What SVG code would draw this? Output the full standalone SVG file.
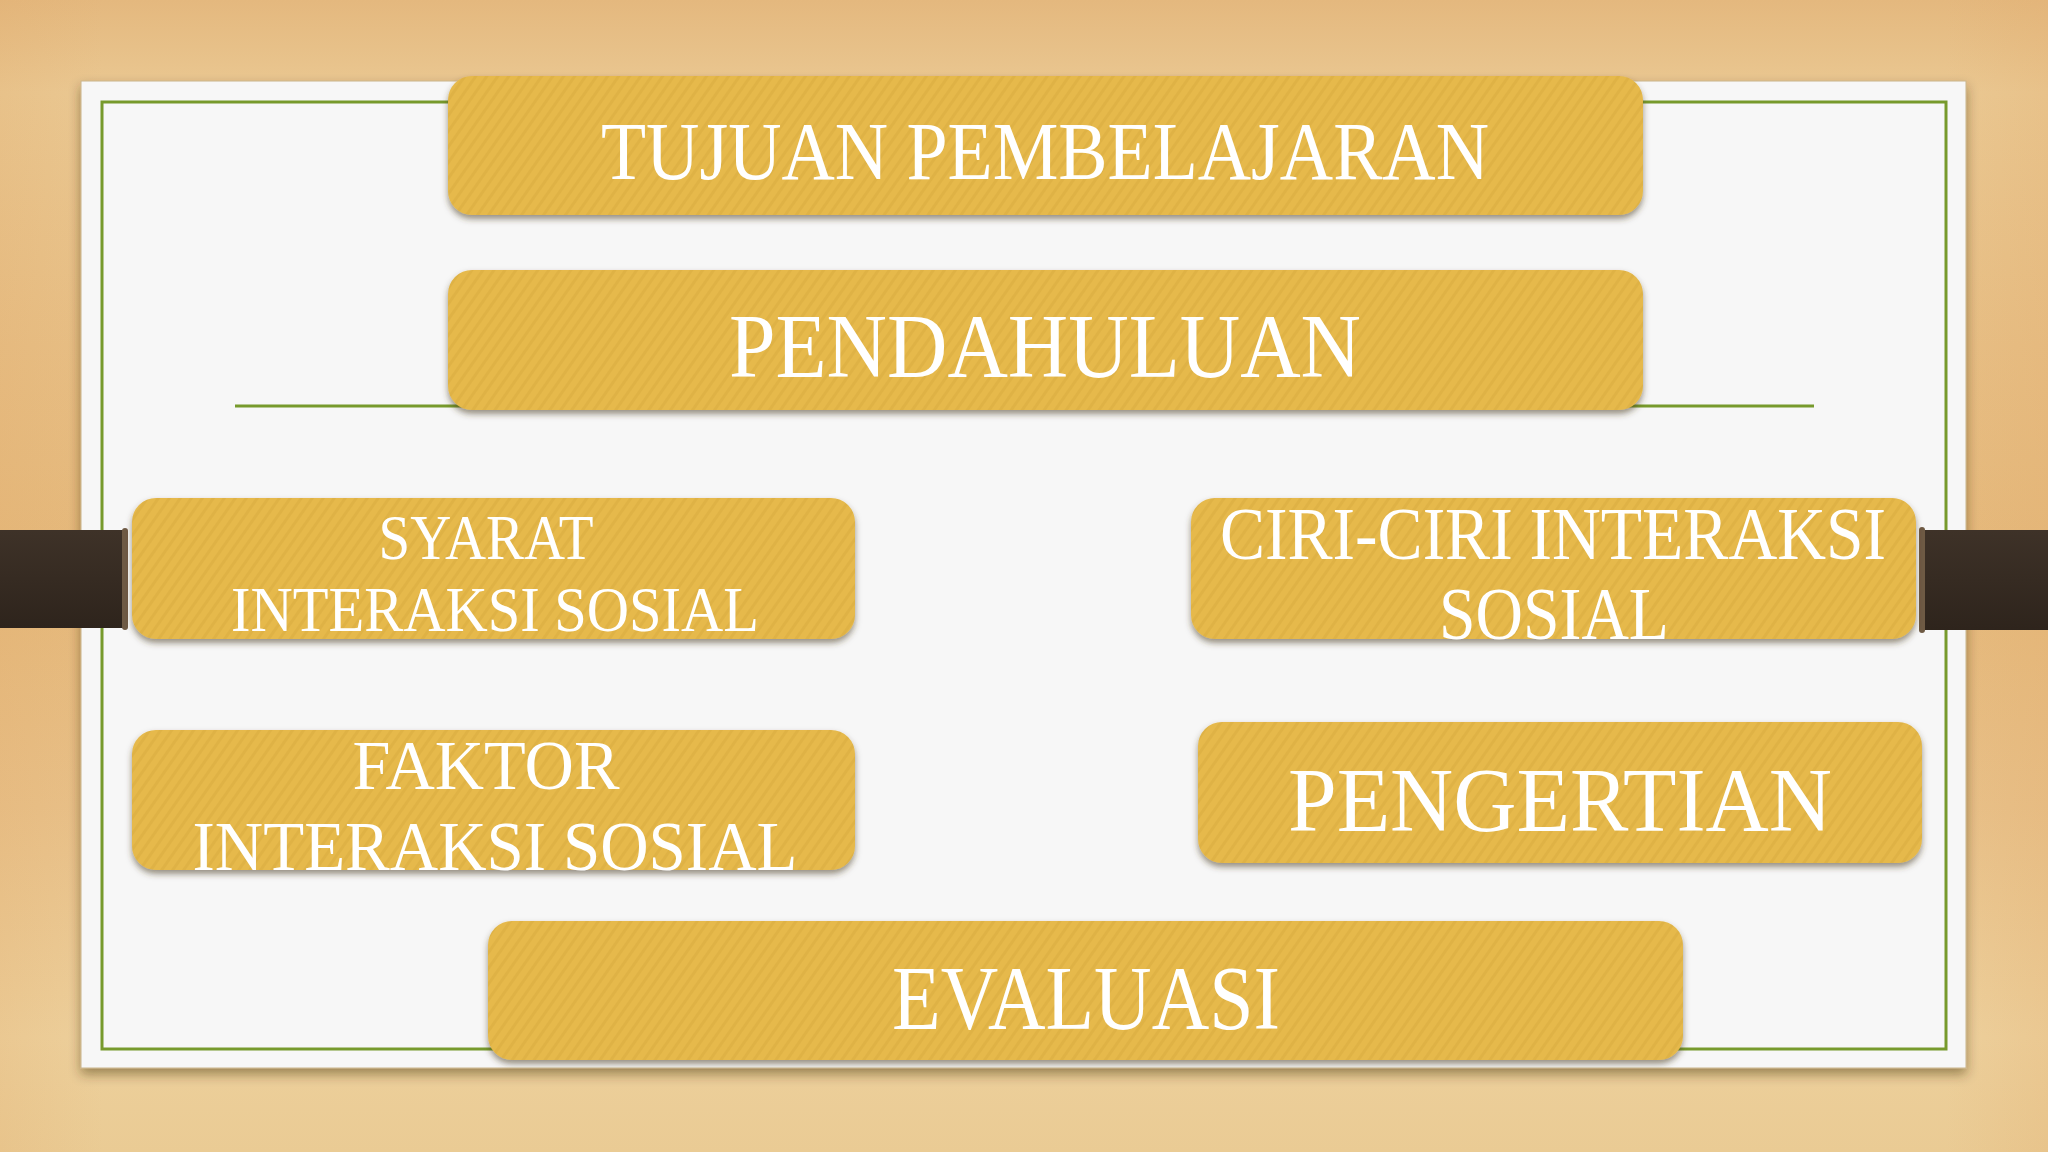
<svg xmlns="http://www.w3.org/2000/svg" width="2048" height="1152" viewBox="0 0 2048 1152">
  <defs>
    <linearGradient id="wood" x1="0" y1="0" x2="0" y2="1">
      <stop offset="0" stop-color="#E4B87E"/>
      <stop offset="0.08" stop-color="#EAC892"/>
      <stop offset="0.3" stop-color="#E7BE84"/>
      <stop offset="0.5" stop-color="#E5B87A"/>
      <stop offset="0.7" stop-color="#E8C088"/>
      <stop offset="0.9" stop-color="#EDD09C"/>
      <stop offset="1" stop-color="#EACB94"/>
    </linearGradient>
    <linearGradient id="woodSide" x1="0" y1="0" x2="1" y2="0">
      <stop offset="0" stop-color="#E0A868" stop-opacity="0.2"/>
      <stop offset="0.05" stop-color="#E0A868" stop-opacity="0"/>
      <stop offset="0.95" stop-color="#E0A868" stop-opacity="0"/>
      <stop offset="1" stop-color="#E0A868" stop-opacity="0.2"/>
    </linearGradient>
    <pattern id="stripes" width="9" height="9" patternUnits="userSpaceOnUse" patternTransform="rotate(35)">
      <rect width="9" height="9" fill="#E6B94B"/>
      <rect width="3" height="9" fill="#DDB044" opacity="0.8"/>
    </pattern>
    <linearGradient id="barGrad" x1="0" y1="0" x2="0" y2="1">
      <stop offset="0" stop-color="#3E3228"/>
      <stop offset="0.5" stop-color="#362B22"/>
      <stop offset="1" stop-color="#2E241C"/>
    </linearGradient>
    <filter id="boxShadow" x="-5%" y="-10%" width="110%" height="130%">
      <feDropShadow dx="0" dy="4" stdDeviation="3" flood-color="#4A3A20" flood-opacity="0.55"/>
    </filter>
    <filter id="paperShadow" x="-5%" y="-5%" width="110%" height="115%">
      <feDropShadow dx="0" dy="6" stdDeviation="6" flood-color="#3A2A10" flood-opacity="0.45"/>
    </filter>
  </defs>
  <style>
    .box { fill: url(#stripes); filter: url(#boxShadow); }
    .lbl { font-family: "Liberation Serif", "Times New Roman", serif; fill: #FFFFFF; text-anchor: middle; }
    .green { stroke: #779A2C; stroke-width: 3; fill: none; }
  </style>

  <!-- background -->
  <rect x="0" y="0" width="2048" height="1152" fill="url(#wood)"/>
  <rect x="0" y="0" width="2048" height="1152" fill="url(#woodSide)"/>

  <!-- paper -->
  <rect x="81" y="81" width="1885" height="987" fill="#F7F7F7" stroke="#C9B48A" stroke-width="1" filter="url(#paperShadow)"/>
  <rect class="green" x="102" y="102" width="1844" height="947"/>
  <line class="green" x1="235" y1="406" x2="1814" y2="406"/>

  <!-- dark bars -->
  <rect x="0" y="530" width="126" height="98" fill="url(#barGrad)"/>
  <rect x="122" y="528" width="6" height="102" rx="3" fill="#6E5A44"/>
  <rect x="1922" y="530" width="126" height="100" fill="url(#barGrad)"/>
  <rect x="1919" y="527" width="6" height="106" rx="3" fill="#6E5A44"/>

  <g id="node-tujuan">
    <rect class="box" x="448" y="76" width="1195" height="139" rx="24"/>
    <text class="lbl" x="1045" y="179" font-size="82" textLength="888" lengthAdjust="spacingAndGlyphs">TUJUAN PEMBELAJARAN</text>
  </g>
  <g id="node-pendahuluan">
    <rect class="box" x="448" y="270" width="1195" height="140" rx="24"/>
    <text class="lbl" x="1045" y="377" font-size="90" textLength="632" lengthAdjust="spacingAndGlyphs">PENDAHULUAN</text>
  </g>
  <g id="node-syarat">
    <rect class="box" x="132" y="498" width="723" height="141" rx="24"/>
    <text class="lbl" x="486" y="559" font-size="64" textLength="215" lengthAdjust="spacingAndGlyphs">SYARAT</text>
    <text class="lbl" x="495" y="631" font-size="64" textLength="528" lengthAdjust="spacingAndGlyphs">INTERAKSI SOSIAL</text>
  </g>
  <g id="node-ciri">
    <rect class="box" x="1191" y="498" width="725" height="141" rx="24"/>
    <text class="lbl" x="1553" y="559" font-size="74" textLength="666" lengthAdjust="spacingAndGlyphs">CIRI-CIRI INTERAKSI</text>
    <text class="lbl" x="1554" y="639" font-size="74" textLength="230" lengthAdjust="spacingAndGlyphs">SOSIAL</text>
  </g>
  <g id="node-faktor">
    <rect class="box" x="132" y="730" width="723" height="140" rx="24"/>
    <text class="lbl" x="486" y="789" font-size="70" textLength="267" lengthAdjust="spacingAndGlyphs">FAKTOR</text>
    <text class="lbl" x="495" y="870" font-size="70" textLength="605" lengthAdjust="spacingAndGlyphs">INTERAKSI SOSIAL</text>
  </g>
  <g id="node-pengertian">
    <rect class="box" x="1198" y="722" width="724" height="141" rx="24"/>
    <text class="lbl" x="1560" y="831" font-size="90" textLength="544" lengthAdjust="spacingAndGlyphs">PENGERTIAN</text>
  </g>
  <g id="node-evaluasi">
    <rect class="box" x="488" y="921" width="1195" height="139" rx="24"/>
    <text class="lbl" x="1086" y="1029" font-size="90" textLength="388" lengthAdjust="spacingAndGlyphs">EVALUASI</text>
  </g>
  <g id="connectors"/>
</svg>
